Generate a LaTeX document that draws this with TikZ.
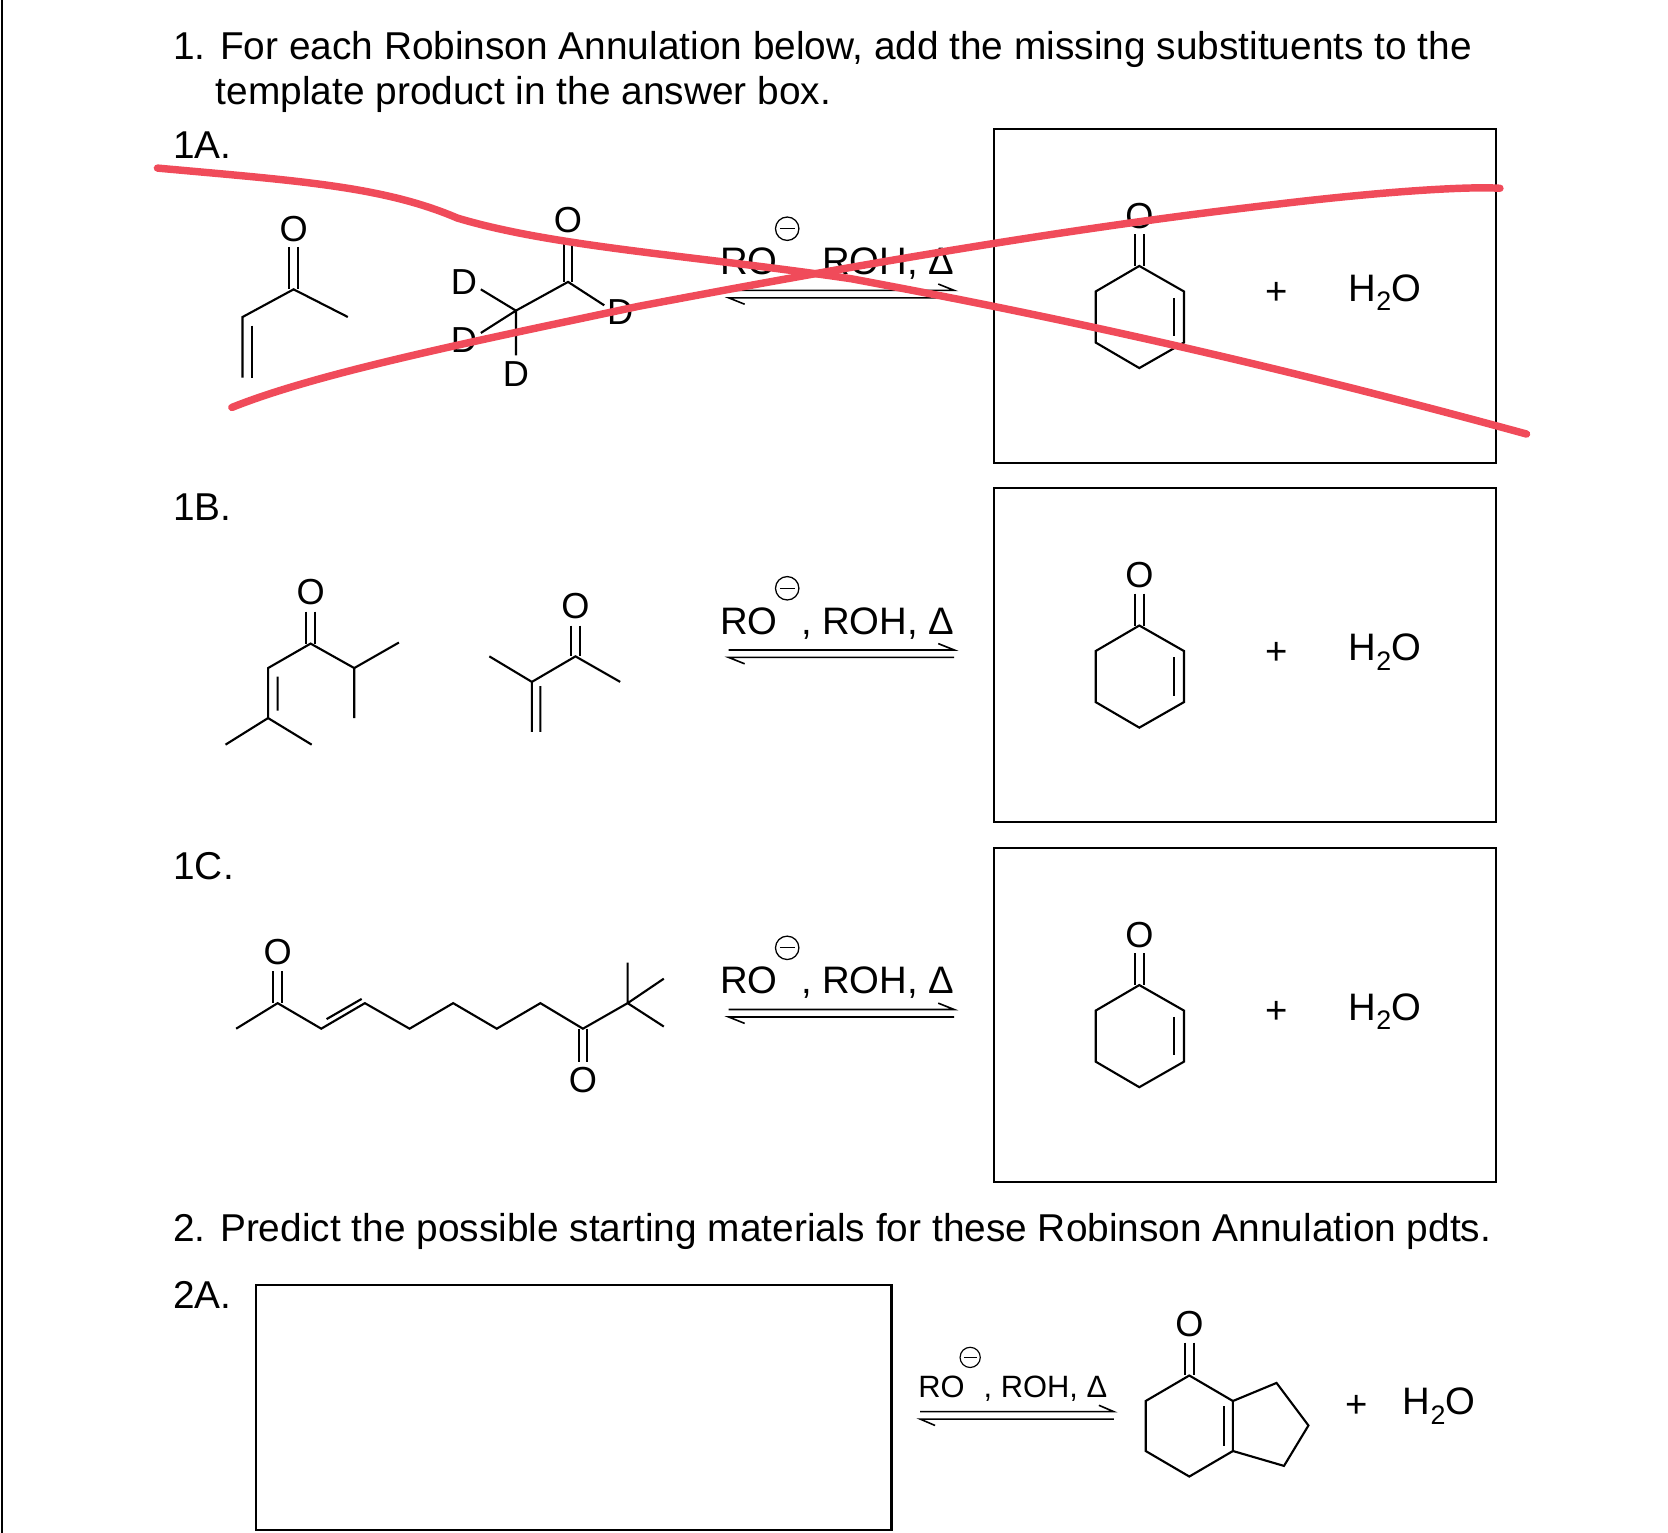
\documentclass[tikz,border=0pt]{standalone}
\usepackage{fontspec}
\setmainfont{Liberation Sans}
\begin{document}
\begin{tikzpicture}[x=1pt,y=-1pt,line width=2pt,
  txt/.style={font=\fontsize{36.5}{40}\selectfont,anchor=base west,inner sep=0},
  atom/.style={font=\fontsize{34}{40}\selectfont,inner sep=0},
  cond/.style={font=\fontsize{36}{40}\selectfont,inner sep=0},
  bx/.style={draw,line width=2pt},
  red/.style={draw={rgb,255:red,240;green,75;blue,90},line width=7pt,line cap=round}]
\useasboundingbox (0,0) rectangle (1568,1441);
\draw[line width=1.5pt] (2,0) -- (2,1441);
\node[txt] (t1) at (162,56) {1. For each Robinson Annulation below, add the missing substituents to the};
\node[txt] (t2) at (202,98) {template product in the answer box.};
\node[txt] (l1a) at (162,149) {1A.};
\node[txt] (l1b) at (162,489) {1B.};
\node[txt] (l1c) at (162,827) {1C.};
\node[txt] (t3) at (162,1167) {2. Predict the possible starting materials for these Robinson Annulation pdts.};
\node[txt] (l2a) at (162,1230) {2A.};
% boxes
\node[bx,minimum width=472,minimum height=314,anchor=north west] (b1) at (933,120) {};
\node[bx,minimum width=472,minimum height=314,anchor=north west] (b2) at (933,458) {};
\node[bx,minimum width=472,minimum height=314,anchor=north west] (b3) at (933,796) {};
\node[bx,minimum width=597,minimum height=230,anchor=north west] (b4) at (240,1207) {};
% reagent arrows
\foreach \dy/\nm in {0/a,338/b,676/c}{
 \begin{scope}[yshift=-\dy]
 \node[cond,anchor=base] (r\nm) at (787,258) {RO\hspace{22pt}, ROH, Δ};
 \node[draw,circle,line width=1.2pt,minimum size=22pt,inner sep=0] (m\nm) at (740,215) {};
 \draw[line width=1.2pt] (733,215) -- (747,215);
 \draw[line width=1.5pt] (685,273) -- (897,273) -- (882,267);
 \draw[line width=1.5pt] (897,280) -- (685,280) -- (700,286);
 % product
 \node[atom] (o\nm) at (1071,203) {O};
 \draw (1067,220) -- (1067,250) (1075,220) -- (1075,250);
 \draw (1071,250) -- (1113,274) -- (1113,322) -- (1071,346) -- (1030,322) -- (1030,274) -- cycle;
 \draw (1104,280) -- (1104,316);
 \node[cond] (p\nm) at (1200,276) {+};
 \node[cond] (w\nm) at (1302,275) {H\textsubscript{2}O};
 \end{scope}}
% 1A reactants
\node[atom] (oa1) at (276,215) {O};
\draw (272,232) -- (272,272) (280,232) -- (280,272);
\draw (327,298) -- (276,272) -- (228,298) -- (228,355);
\draw (237,306) -- (237,355);
\node[atom] (oa2) at (534,207) {O};
\draw (530,225) -- (530,265) (538,225) -- (538,265);
\draw (485,292) -- (534,265) -- (568,287);
\node[atom] (d1) at (583,293) {D};
\node[atom] (d2) at (436,265) {D};
\node[atom] (d3) at (436,320) {D};
\node[atom] (d4) at (485,352) {D};
\draw (485,292) -- (452,272) (485,292) -- (452,313) (485,292) -- (485,334);
% 1B reactants
\node[atom] (ob1) at (292,557) {O};
\draw (288,575) -- (288,605) (296,575) -- (296,605);
\draw (375,604) -- (333,628) -- (292,605) -- (252,628) -- (252,675) -- (212,700);
\draw (333,628) -- (333,675) (252,675) -- (293,700) (261,636) -- (261,668);
\node[atom] (ob2) at (541,570) {O};
\draw (537,588) -- (537,617) (545,588) -- (545,617);
\draw (583,641) -- (541,617) -- (500,641) -- (460,617) (500,641) -- (500,688) (508,645) -- (508,688);
% 1C reactant
\node[atom] (oc1) at (261,895) {O};
\draw (257,913) -- (257,943) (265,913) -- (265,943);
\draw (222,967) -- (261,943) -- (302,967) -- (343,943) -- (385,967) -- (426,943) -- (467,967) -- (508,943) -- (548,967) -- (590,943);
\draw (307,958) -- (340,939);
\draw (544,967) -- (544,998) (552,967) -- (552,998);
\node[atom] (oc2) at (548,1015) {O};
\draw (590,943) -- (590,905) (590,943) -- (624,920) (590,943) -- (624,965);
% 2A
\node[cond,font=\fontsize{29}{34}\selectfont,anchor=base] (r2) at (952,1314) {RO\hspace{18pt}, ROH, Δ};
\node[draw,circle,line width=1.1pt,minimum size=19pt,inner sep=0] (m2) at (912,1276) {};
\draw[line width=1.1pt] (906,1276) -- (918,1276);
\draw[line width=1.5pt] (865,1327) -- (1047,1327) -- (1033,1321);
\draw[line width=1.5pt] (1047,1334) -- (865,1334) -- (879,1340);
\node[atom] (o2) at (1118,1245) {O};
\draw (1114,1262) -- (1114,1293) (1122,1262) -- (1122,1293);
\draw (1118,1293) -- (1159,1317) -- (1159,1364) -- (1118,1388) -- (1077,1364) -- (1077,1317) -- cycle;
\draw (1151,1322) -- (1151,1359);
\draw (1159,1317) -- (1200,1300) -- (1230,1340) -- (1207,1378) -- (1159,1364);
\node[cond] (p2) at (1275,1322) {+};
\node[cond] (w2) at (1353,1322) {H\textsubscript{2}O};
% red strikes
\draw[red] (148,158) .. controls (280,170) and (360,175) .. (430,205) .. controls (520,232) and (650,240) .. (800,262) .. controls (950,290) and (1150,330) .. (1435,408);
\draw[red] (218,383) .. controls (300,350) and (450,320) .. (600,288) .. controls (800,250) and (1000,215) .. (1200,192) .. controls (1300,180) and (1380,175) .. (1410,177);
\end{tikzpicture}
\end{document}
